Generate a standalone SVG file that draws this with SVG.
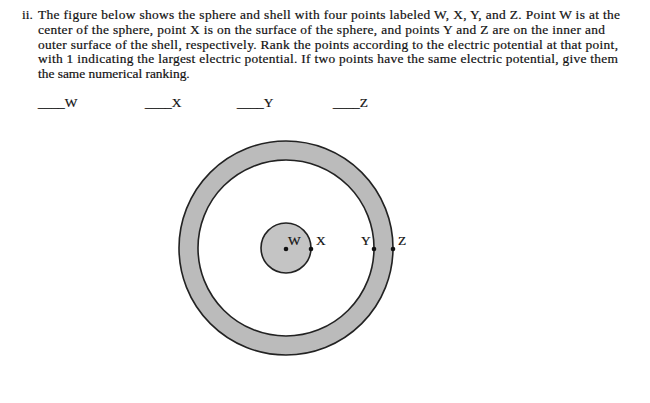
<svg xmlns="http://www.w3.org/2000/svg" width="650" height="403" viewBox="0 0 650 403">
<style>
text{font-family:"Liberation Serif","Times New Roman",serif;font-size:13.4px;fill:#111;stroke:#111;stroke-width:0.2}
.c{stroke:#222;stroke-width:1.6}
</style>
<rect width="650" height="403" fill="#fff"/>
<g id="question">
<text x="22" y="19">ii.</text>
<text x="38" y="19" textLength="582" lengthAdjust="spacing">The figure below shows the sphere and shell with four points labeled W, X, Y, and Z. Point W is at the</text>
<text x="38" y="34" textLength="567" lengthAdjust="spacing">center of the sphere, point X is on the surface of the sphere, and points Y and Z are on the inner and</text>
<text x="38" y="49" textLength="580" lengthAdjust="spacing">outer surface of the shell, respectively. Rank the points according to the electric potential at that point,</text>
<text x="38" y="63" textLength="580" lengthAdjust="spacing">with 1 indicating the largest electric potential. If two points have the same electric potential, give them</text>
<text x="38" y="78">the same numerical ranking.</text>
<text x="38" y="107">____W</text>
<text x="145" y="107">____X</text>
<text x="237" y="107">____Y</text>
<text x="333" y="107">____Z</text>
</g>
<g id="shell"><circle cx="286" cy="248" r="97.5" fill="none" stroke="#bbb" stroke-width="19"/>
<circle class="c" cx="286" cy="248" r="107" fill="none"/><circle class="c" cx="286" cy="248" r="88" fill="none"/></g>
<g id="sphere"><circle class="c" cx="286" cy="248" r="25" fill="#c4c4c4"/></g>
<g id="points" fill="#111">
<circle cx="286" cy="249" r="2.3"/><circle cx="311" cy="249" r="2.3"/><circle cx="374" cy="249" r="2.3"/><circle cx="393" cy="249" r="2.3"/>
<text x="288" y="245" font-size="12">W</text><text x="316" y="245" font-size="12">X</text><text x="361" y="245" font-size="12">Y</text><text x="398" y="245" font-size="12">Z</text>
</g>
</svg>
